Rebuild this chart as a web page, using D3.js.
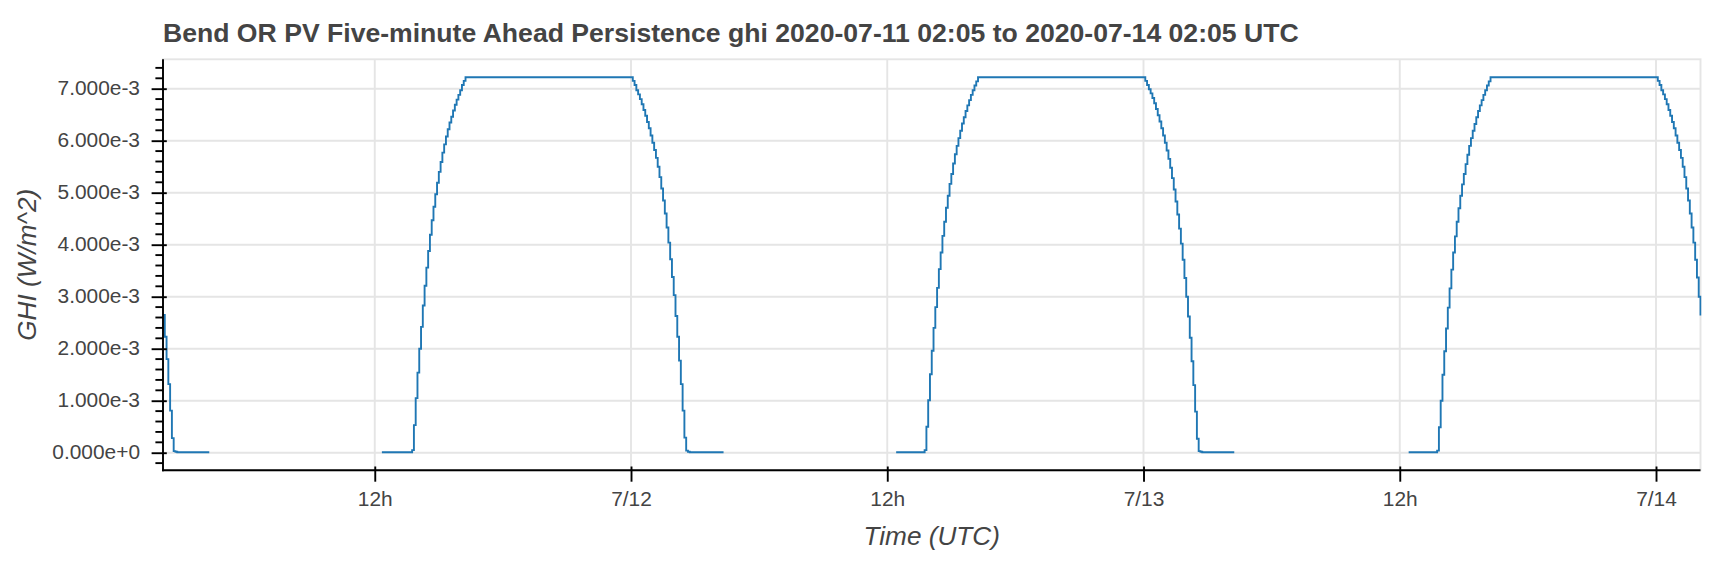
<!DOCTYPE html>
<html>
<head>
<meta charset="utf-8">
<script src="https://cdn.jsdelivr.net/npm/d3@7"></script>
<style>
  html, body { margin: 0; padding: 0; background: #ffffff; }
  svg { display: block; }
</style>
</head>
<body>
<svg id="chart" width="1710" height="570"></svg>
<script>
// ---------------- DATA (GHI, in units of 1e-3 W/m^2, five-minute cadence) ----------------
const titleText = "Bend OR PV Five-minute Ahead Persistence ghi 2020-07-11 02:05 to 2020-07-14 02:05 UTC";
const xLabelText = "Time (UTC)";
const yLabelText = "GHI (W/m^2)";

const timeDomain = ["2020-07-11T02:05Z", "2020-07-14T02:05Z"];
const xTickTimes = ["2020-07-11T12:00Z", "2020-07-12T00:00Z", "2020-07-12T12:00Z",
                    "2020-07-13T00:00Z", "2020-07-13T12:00Z", "2020-07-14T00:00Z"];
const xTickLabels = ["12h", "7/12", "12h", "7/13", "12h", "7/14"];

const yDomain = [-0.338e-3, 7.565e-3];
const yTickValues = [0, 1e-3, 2e-3, 3e-3, 4e-3, 5e-3, 6e-3, 7e-3];
const yTickLabels = ["0.000e+0", "1.000e-3", "2.000e-3", "3.000e-3",
                     "4.000e-3", "5.000e-3", "6.000e-3", "7.000e-3"];

const valueUnit = 1e-3;
const nightValue = 0.01;

// contiguous data segments (gaps between them are missing data)
const segmentStarts = ["2020-07-11T02:05Z", "2020-07-11T12:20Z", "2020-07-12T12:25Z", "2020-07-13T12:25Z"];
const segmentEnds   = ["2020-07-11T04:15Z", "2020-07-12T04:20Z", "2020-07-13T04:15Z", "2020-07-14T02:05Z"];

// morning ramps (5-minute values)
const riseStarts = [null, "2020-07-11T13:45Z", "2020-07-12T13:45Z", "2020-07-13T13:45Z"];
const rise1 = [0.05, 0.53, 1.05, 1.54, 2.00, 2.42, 2.83, 3.21, 3.56, 3.88, 4.19, 4.47, 4.73, 4.97, 5.19, 5.40,
               5.59, 5.77, 5.93, 6.08, 6.22, 6.35, 6.46, 6.58, 6.69, 6.79, 6.88, 6.97, 7.07, 7.15, 7.22];
const rise2 = [0.05, 0.50, 1.01, 1.51, 1.96, 2.40, 2.80, 3.17, 3.53, 3.85, 4.17, 4.44, 4.71, 4.94, 5.17, 5.36,
               5.56, 5.74, 5.90, 6.05, 6.19, 6.33, 6.45, 6.57, 6.68, 6.78, 6.88, 6.97, 7.06, 7.14, 7.22];
const rise3 = [0.04, 0.49, 1.00, 1.50, 1.95, 2.39, 2.79, 3.16, 3.52, 3.85, 4.16, 4.44, 4.70, 4.94, 5.16, 5.36,
               5.55, 5.73, 5.90, 6.05, 6.19, 6.32, 6.45, 6.57, 6.68, 6.78, 6.88, 6.97, 7.06, 7.14, 7.22];

// evening ramps (5-minute values)
const setStarts = ["2020-07-11T02:05Z", "2020-07-12T00:05Z", "2020-07-13T00:05Z", "2020-07-14T00:05Z"];
const set0 = [2.65, 2.23, 1.80, 1.32, 0.81, 0.28, 0.03, 0.02, 0.01];
const set1 = [7.15, 7.07, 6.97, 6.89, 6.80, 6.70, 6.59, 6.48, 6.36, 6.24, 6.10, 5.96, 5.82, 5.67, 5.50, 5.30,
              5.08, 4.85, 4.60, 4.33, 4.04, 3.72, 3.38, 3.03, 2.63, 2.23, 1.77, 1.32, 0.81, 0.29, 0.04, 0.02, 0.01];
const set2 = [7.15, 7.07, 6.99, 6.91, 6.82, 6.72, 6.61, 6.49, 6.37, 6.24, 6.10, 5.96, 5.81, 5.65, 5.48, 5.28,
              5.06, 4.83, 4.58, 4.31, 4.02, 3.71, 3.36, 3.00, 2.62, 2.21, 1.76, 1.30, 0.79, 0.27, 0.03, 0.02, 0.01];
const set3 = [7.15, 7.07, 6.97, 6.89, 6.80, 6.70, 6.59, 6.48, 6.36, 6.24, 6.10, 5.96, 5.82, 5.67, 5.50, 5.30,
              5.08, 4.85, 4.60, 4.33, 4.04, 3.71, 3.37, 3.00, 2.64];

const riseSeries = [null, rise1, rise2, rise3];
const setSeries = [set0, set1, set2, set3];

// ---------------- BUILD ----------------
const STEP_MS = 5 * 60 * 1000;
function samples(startIso, vals) {
  const t0 = new Date(startIso).getTime();
  return vals.map((v, i) => [new Date(t0 + i * STEP_MS), v * valueUnit]);
}

const segments = segmentStarts.map((s, k) => {
  let pts = [];
  if (riseStarts[k]) {
    pts.push([new Date(s), nightValue * valueUnit]);
    pts = pts.concat(samples(riseStarts[k], riseSeries[k]));
  }
  pts = pts.concat(samples(setStarts[k], setSeries[k]));
  const endT = new Date(segmentEnds[k]);
  const last = pts[pts.length - 1];
  if (endT > last[0]) pts.push([endT, last[1]]);
  return pts;
});

// ---------------- LAYOUT ----------------
const frame = { left: 163, top: 59.3, right: 1700.5, bottom: 470.3 };
const textColor = "#444444";
const gridColor = "#e5e5e5";
const lw = 1.9;
const fontFam = "'Liberation Sans', Arial, Helvetica, sans-serif";

const svg = d3.select("#chart");

const x = d3.scaleUtc()
  .domain(timeDomain.map(d => new Date(d)))
  .range([frame.left, frame.right]);
const y = d3.scaleLinear()
  .domain(yDomain)
  .range([frame.bottom, frame.top]);

// grid
const grid = svg.append("g");
grid.selectAll("line.hg").data(yTickValues).join("line")
  .attr("x1", frame.left).attr("x2", frame.right)
  .attr("y1", d => y(d)).attr("y2", d => y(d))
  .attr("stroke", gridColor).attr("stroke-width", lw);
grid.selectAll("line.vg").data(xTickTimes).join("line")
  .attr("x1", d => x(new Date(d))).attr("x2", d => x(new Date(d)))
  .attr("y1", frame.top).attr("y2", frame.bottom)
  .attr("stroke", gridColor).attr("stroke-width", lw);

// outline
svg.append("rect")
  .attr("x", frame.left).attr("y", frame.top)
  .attr("width", frame.right - frame.left).attr("height", frame.bottom - frame.top)
  .attr("fill", "none").attr("stroke", gridColor).attr("stroke-width", lw);

// clip
svg.append("clipPath").attr("id", "clip").append("rect")
  .attr("x", frame.left).attr("y", frame.top)
  .attr("width", frame.right - frame.left + 1).attr("height", frame.bottom - frame.top);

const line = d3.line()
  .x(d => x(d[0]))
  .y(d => y(d[1]))
  .curve(d3.curveStepAfter);

svg.append("g").attr("clip-path", "url(#clip)")
  .selectAll("path").data(segments).join("path")
  .attr("d", line)
  .attr("fill", "none")
  .attr("stroke", "#1f77b4")
  .attr("stroke-width", lw);

// x axis
const xAxis = d3.axisBottom(x)
  .tickValues(xTickTimes.map(d => new Date(d)))
  .tickFormat((d, i) => xTickLabels[i])
  .tickSizeInner(11.4).tickSizeOuter(0).tickPadding(9.5);
const gx = svg.append("g").attr("transform", `translate(0,${frame.bottom})`).call(xAxis);
gx.select(".domain").remove();
gx.selectAll(".tick line").attr("y1", -3.8).attr("stroke", "#000").attr("stroke-width", lw);
gx.selectAll(".tick text")
  .attr("font-family", fontFam).attr("font-size", "20.9px").attr("fill", textColor);
gx.append("line")
  .attr("x1", frame.left - lw / 2).attr("x2", frame.right)
  .attr("y1", 0).attr("y2", 0)
  .attr("stroke", "#000").attr("stroke-width", lw);

// y axis
const yAxis = d3.axisLeft(y)
  .tickValues(yTickValues)
  .tickFormat((d, i) => yTickLabels[i])
  .tickSizeInner(11.4).tickSizeOuter(0).tickPadding(11.6);
const gy = svg.append("g").attr("transform", `translate(${frame.left},0)`).call(yAxis);
gy.select(".domain").remove();
gy.selectAll(".tick line").attr("x1", 3.8).attr("stroke", "#000").attr("stroke-width", lw);
gy.selectAll(".tick text")
  .attr("font-family", fontFam).attr("font-size", "20.9px").attr("fill", textColor)
  .attr("dy", "0.27em");
const yMinor = d3.range(-2, 38, 1).map(k => k * 0.2e-3)
  .filter(v => v >= yDomain[0] && v <= yDomain[1] && Math.abs(Math.round(v * 1000) - v * 1000) > 1e-9);
gy.selectAll("line.minor").data(yMinor).join("line")
  .attr("class", "minor")
  .attr("x1", -7.6).attr("x2", 0)
  .attr("y1", d => y(d)).attr("y2", d => y(d))
  .attr("stroke", "#000").attr("stroke-width", lw);
gy.append("line")
  .attr("x1", 0).attr("x2", 0)
  .attr("y1", frame.top).attr("y2", frame.bottom + lw / 2)
  .attr("stroke", "#000").attr("stroke-width", lw);

// labels
svg.append("text")
  .attr("x", (frame.left + frame.right) / 2).attr("y", 545)
  .attr("text-anchor", "middle")
  .attr("font-family", fontFam).attr("font-size", "26.2px").attr("font-style", "italic")
  .attr("fill", textColor)
  .text(xLabelText);

svg.append("text")
  .attr("transform", `translate(36,${(frame.top + frame.bottom) / 2}) rotate(-90)`)
  .attr("text-anchor", "middle")
  .attr("font-family", fontFam).attr("font-size", "26.2px").attr("font-style", "italic")
  .attr("fill", textColor)
  .text(yLabelText);

svg.append("text")
  .attr("x", 163).attr("y", 42.3)
  .attr("font-family", fontFam).attr("font-size", "26.6px").attr("font-weight", "bold")
  .attr("fill", textColor)
  .text(titleText);
</script>
</body>
</html>
